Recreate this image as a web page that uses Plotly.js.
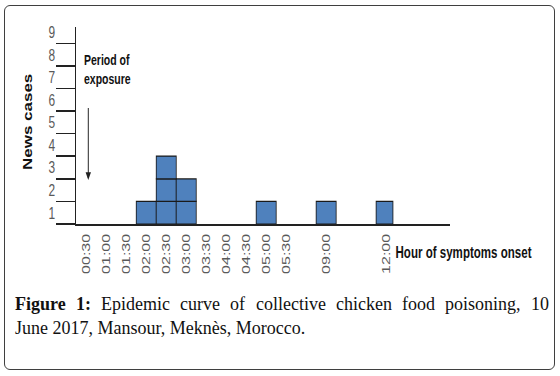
<!DOCTYPE html>
<html>
<head>
<meta charset="utf-8">
<script src="https://cdn.plot.ly/plotly-3.0.1.min.js"></script>
<style>
  html, body { margin: 0; padding: 0; background: #fff; overflow: hidden; }
  #wrap { position: relative; width: 560px; height: 376px; overflow: hidden; }
  #chart { position: absolute; left: 0; top: 0; width: 800px; height: 376px;
           transform: scaleX(0.7); transform-origin: 0 0; }
  #caption { position: absolute; left: 0; top: 0; width: 560px; height: 376px; pointer-events: none; }
  #frame { position: absolute; left: 4px; top: 5px; width: 549px; height: 363px;
           border: 1.5px solid #3f3f3f; border-radius: 6px; pointer-events: none; }
</style>
</head>
<body>
<div id="wrap">
  <div id="chart"></div>
  <div id="caption"></div>
  <div id="frame"></div>
</div>
<script>
// ---- data ----
const categories = ["00:30","01:00","01:30","02:00","02:30","03:00","03:30","04:00","04:30","05:00","05:30","","09:00","","","12:00"];
const newCases   = [0,0,0,1,3,2,0,0,0,1,0,0,1,0,0,1];
const yTickLabels = ["1","2","3","4","5","6","7","8","9"];
const captionBold = "Figure 1:";
const captionLine1 = "Epidemic curve of collective chicken food poisoning, 10";
const captionLine2 = "June 2017, Mansour, Meknès, Morocco.";

// ---- geometry (reference pixels); chart is drawn wide then squeezed horizontally ----
const S = 0.7;
const W = 560, H = 376, L = 76, R = 450, T = 27, B = 224;
const px = v => (v - L) / (R - L);
const py = v => (B - v) / (B - T);

const SANS = '"Liberation Sans", Arial, sans-serif';
const SERIF = '"Liberation Serif", "Times New Roman", serif';

const idx = categories.map((c, i) => i);
const maxCases = Math.max(...newCases);
const traces = [];
for (let k = 1; k <= maxCases; k++) {
  traces.push({
    type: 'bar',
    x: idx,
    y: newCases.map(v => (v >= k ? 1 : null)),
    width: categories.map(c => (c === '12:00' ? 0.84 : 1)),
    offset: -0.5,
    marker: { color: '#4f81bd', line: { color: '#1a1a1a', width: 1.2 } },
    hoverinfo: 'skip',
    showlegend: false
  });
}

const tickIdx = idx.filter(i => categories[i] !== '');
const layout = {
  width: W / S, height: H,
  margin: { l: L / S, r: (W - R) / S, t: T, b: H - B, pad: 0 },
  paper_bgcolor: 'rgba(0,0,0,0)', plot_bgcolor: 'rgba(0,0,0,0)',
  barmode: 'stack', bargap: 0,
  showlegend: false,
  xaxis: {
    range: [-0.5, 18.2],
    tickmode: 'array',
    tickvals: tickIdx,
    ticktext: tickIdx.map(i => categories[i]),
    tickangle: -90,
    ticks: '',
    ticklabelstandoff: 2,
    tickfont: { family: SANS, size: 16, color: '#595959' },
    showline: true, linecolor: '#222', linewidth: 1.5,
    showgrid: false, zeroline: false, fixedrange: true
  },
  yaxis: {
    range: [0, 8.72],
    tickmode: 'array',
    tickvals: yTickLabels.map((t, i) => i + 0.5),
    ticktext: yTickLabels,
    ticks: '',
    ticklabelstandoff: 25,
    tickfont: { family: SANS, size: 17, color: '#595959' },
    minor: {
      tickmode: 'array',
      tickvals: [0].concat(yTickLabels.map((t, i) => i + 1)),
      ticks: 'outside', ticklen: 19 / S, tickwidth: 1.5, tickcolor: '#222', showgrid: false
    },
    showline: true, linecolor: '#222', linewidth: 2,
    showgrid: false, zeroline: false, fixedrange: true
  },
  annotations: [
    { xref: 'paper', yref: 'paper', x: px(27), y: py(122), text: '<b>News cases</b>',
      textangle: -90, showarrow: false, xanchor: 'center', yanchor: 'middle',
      font: { family: SANS, size: 17, color: '#111' } },
    { xref: 'paper', yref: 'paper', x: px(82), y: py(69), text: '<b>Period of<br>exposure</b>',
      showarrow: false, xanchor: 'left', yanchor: 'middle', align: 'left',
      font: { family: SANS, size: 15, color: '#111' } },
    { xref: 'x', yref: 'y', x: 0.1, y: 1.95, axref: 'x', ayref: 'y', ax: 0.1, ay: 5.2,
      text: '', showarrow: true, arrowhead: 2, arrowsize: 1.1, arrowwidth: 1.4, arrowcolor: '#222' },
    { xref: 'paper', yref: 'paper', x: px(394), y: py(252), text: '<b>Hour of symptoms onset</b>',
      showarrow: false, xanchor: 'left', yanchor: 'middle',
      font: { family: SANS, size: 16.5, color: '#111' } }
  ]
};

Plotly.newPlot('chart', traces, layout, { displayModeBar: false, staticPlot: true });

// ---- caption (not squeezed), first line justified between the frame margins ----
const CAP_SIZE = 18;
const ctx = document.createElement('canvas').getContext('2d');
function measure(word, bold) {
  ctx.font = (bold ? 'bold ' : '') + CAP_SIZE + 'px "Liberation Serif", "Times New Roman", serif';
  return ctx.measureText(word).width;
}
const boldWords = captionBold.split(' ').map(w => ({ w, bold: true }));
const plainWords = captionLine1.split(' ').map(w => ({ w, bold: false }));
const line1Words = boldWords.concat(plainWords);
const capLeft = 13, capRight = 547;
const widths = line1Words.map(o => measure(o.w, o.bold));
const gap = (capRight - capLeft - widths.reduce((a, b) => a + b, 0)) / (line1Words.length - 1);
const capAnn = [];
let xPos = capLeft;
line1Words.forEach((o, i) => {
  capAnn.push({ xref: 'paper', yref: 'paper', x: xPos / W, y: 1 - 304 / H,
    text: o.bold ? '<b>' + o.w + '</b>' : o.w, showarrow: false,
    xanchor: 'left', yanchor: 'middle', font: { family: SERIF, size: CAP_SIZE, color: '#111' } });
  xPos += widths[i] + gap;
});
capAnn.push({ xref: 'paper', yref: 'paper', x: capLeft / W, y: 1 - 328 / H, text: captionLine2,
  showarrow: false, xanchor: 'left', yanchor: 'middle', align: 'left',
  font: { family: SERIF, size: CAP_SIZE, color: '#111' } });

Plotly.newPlot('caption', [], {
  width: W, height: H, margin: { l: 0, r: 0, t: 0, b: 0 },
  paper_bgcolor: 'rgba(0,0,0,0)', plot_bgcolor: 'rgba(0,0,0,0)',
  xaxis: { visible: false, range: [0, 1] }, yaxis: { visible: false, range: [0, 1] },
  annotations: capAnn
}, { displayModeBar: false, staticPlot: true });
</script>
</body>
</html>
